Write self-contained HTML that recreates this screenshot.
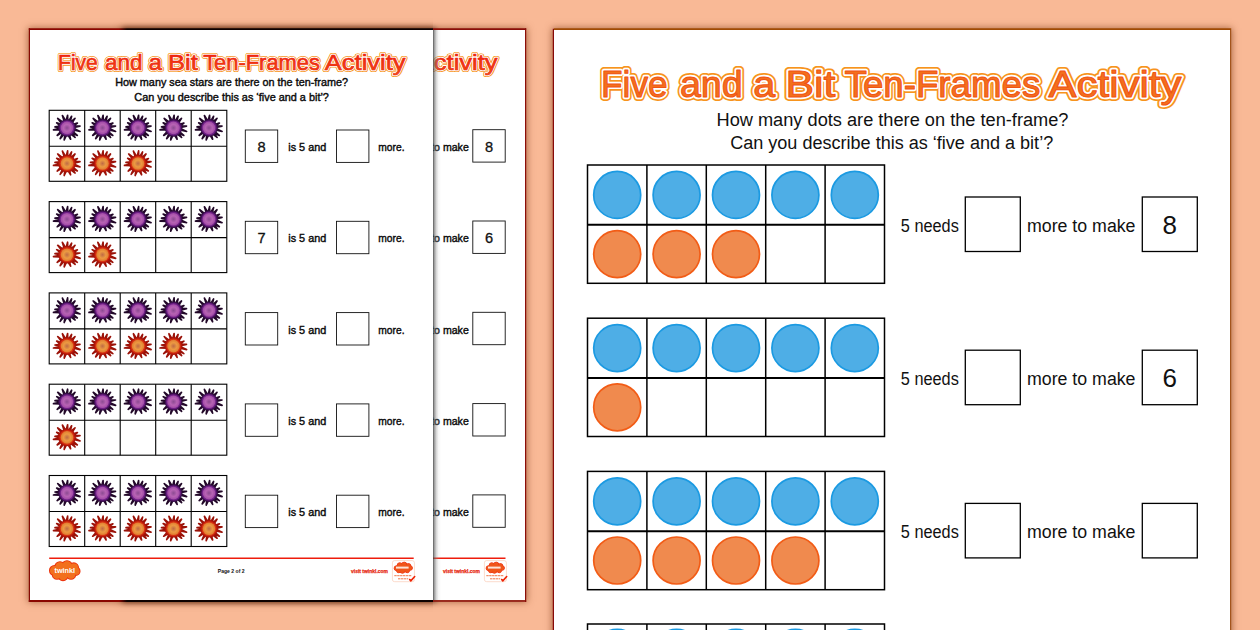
<!DOCTYPE html>
<html>
<head>
<meta charset="utf-8">
<title>Five and a Bit Ten-Frames Activity</title>
<style>
html,body{margin:0;padding:0;}
body{width:1260px;height:630px;overflow:hidden;background:#f9b996;position:relative;font-family:"Liberation Sans",sans-serif;}
.page{position:absolute;background:#fff;box-shadow:0 0 7px 2px rgba(125,55,20,.62);}
#ovl{position:absolute;left:126px;top:31px;width:307px;height:568px;box-shadow:0 0 5px 3px rgba(25,0,0,.6);}
#back{left:122px;top:30px;width:403px;height:570px;}
#front{left:30px;top:30px;width:403px;height:570px;clip-path:inset(-14px 0 -14px -14px);}
#right{left:554px;top:30px;width:676px;height:620px;}
#frontshade{position:absolute;left:433px;top:30px;width:9px;height:570px;background:linear-gradient(to right,rgba(60,60,60,.85) 0,rgba(100,100,100,.6) 1.5px,rgba(140,140,140,.33) 3.5px,rgba(180,180,180,.12) 5.5px,rgba(255,255,255,0) 8px);}
svg{position:absolute;left:0;top:0;width:1260px;height:630px;overflow:hidden;}
text{font-family:"Liberation Sans",sans-serif;}
</style>
</head>
<body>
<div id="ovl"></div>
<div class="page" id="back"></div>
<svg id="svgback" viewBox="0 0 1260 630">
<g transform="translate(92,0)"><use href="#twL" stroke="#f7941d" stroke-width="3.9" fill="#f7941d"/>
<use href="#twL" stroke="#fff" stroke-width="2.3" fill="#fff"/>
<use href="#twL" fill="url(#tgL)" stroke="#ee2410" stroke-width="0.65"/></g>
<g transform="translate(0,110.3)"><text x="404.1" y="40.7" font-size="11" fill="#0a0a0a" stroke="#0a0a0a" stroke-width="0.4" textLength="64.7" lengthAdjust="spacingAndGlyphs">more to make</text><use href="#boxL" x="472.5" y="19.2"/><text x="489" y="41.3" font-size="14.6" text-anchor="middle" fill="#111" stroke="#111" stroke-width="0.3">8</text></g>
<g transform="translate(0,201.6)"><text x="404.1" y="40.7" font-size="11" fill="#0a0a0a" stroke="#0a0a0a" stroke-width="0.4" textLength="64.7" lengthAdjust="spacingAndGlyphs">more to make</text><use href="#boxL" x="472.5" y="19.2"/><text x="489" y="41.3" font-size="14.6" text-anchor="middle" fill="#111" stroke="#111" stroke-width="0.3">6</text></g>
<g transform="translate(0,292.9)"><text x="404.1" y="40.7" font-size="11" fill="#0a0a0a" stroke="#0a0a0a" stroke-width="0.4" textLength="64.7" lengthAdjust="spacingAndGlyphs">more to make</text><use href="#boxL" x="472.5" y="19.2"/></g>
<g transform="translate(0,384.2)"><text x="404.1" y="40.7" font-size="11" fill="#0a0a0a" stroke="#0a0a0a" stroke-width="0.4" textLength="64.7" lengthAdjust="spacingAndGlyphs">more to make</text><use href="#boxL" x="472.5" y="19.2"/></g>
<g transform="translate(0,475.5)"><text x="404.1" y="40.7" font-size="11" fill="#0a0a0a" stroke="#0a0a0a" stroke-width="0.4" textLength="64.7" lengthAdjust="spacingAndGlyphs">more to make</text><use href="#boxL" x="472.5" y="19.2"/></g>

<path d="M141.2 558.2H505.5" stroke="#ee1c0c" stroke-width="1.4"/>
<use href="#visit" x="92"/>
</svg>
<div class="page" id="front"></div>
<div id="frontshade"></div>
<svg id="svgfront" viewBox="0 0 1260 630">
<defs>
<radialGradient id="pg"><stop offset="0" stop-color="#8c4a92"/><stop offset=".55" stop-color="#b863b4"/><stop offset="1" stop-color="#a04aa6"/></radialGradient>
<radialGradient id="og"><stop offset="0" stop-color="#bf6a45"/><stop offset=".55" stop-color="#ec9a42"/><stop offset="1" stop-color="#e07a30"/></radialGradient>
<g id="ps"><path d="M-0.9 -6.9 L0.6 -12.6 L0.7 -7.0 L1.7 -6.8 L4.6 -11.6 L3.2 -6.2 L3.8 -5.9 L8.0 -9.5 L5.0 -4.9 L6.1 -3.5 L10.4 -4.9 L6.7 -2.0 L6.7 -1.9 L13.0 -1.8 L7.0 -0.4 L7.0 0.6 L13.1 3.5 L6.7 2.1 L5.9 3.7 L10.3 7.5 L4.9 5.0 L4.8 5.1 L8.1 9.5 L3.5 6.0 L2.4 6.6 L3.6 11.3 L0.9 6.9 L-0.4 7.0 L-2.8 12.0 L-2.0 6.7 L-3.0 6.3 L-6.8 10.8 L-4.4 5.5 L-5.2 4.7 L-9.8 7.5 L-6.1 3.4 L-6.7 2.1 L-13.5 1.9 L-7.0 0.5 L-7.0 -0.1 L-12.0 -1.1 L-6.8 -1.7 L-6.7 -2.1 L-10.3 -5.1 L-6.0 -3.6 L-5.4 -4.5 L-9.3 -9.5 L-4.2 -5.6 L-2.7 -6.4 L-4.6 -12.4 L-1.2 -6.9Z" fill="#2e0c38" stroke="#220828" stroke-width="1.7" stroke-linejoin="round"/><circle r="8.8" fill="#3d0f50"/><circle r="7.5" fill="#6f1f86"/><circle r="6.3" fill="url(#pg)"/></g>
<g id="os"><path d="M-0.9 -6.9 L0.6 -12.6 L0.7 -7.0 L1.7 -6.8 L4.6 -11.6 L3.2 -6.2 L3.8 -5.9 L8.0 -9.5 L5.0 -4.9 L6.1 -3.5 L10.4 -4.9 L6.7 -2.0 L6.7 -1.9 L13.0 -1.8 L7.0 -0.4 L7.0 0.6 L13.1 3.5 L6.7 2.1 L5.9 3.7 L10.3 7.5 L4.9 5.0 L4.8 5.1 L8.1 9.5 L3.5 6.0 L2.4 6.6 L3.6 11.3 L0.9 6.9 L-0.4 7.0 L-2.8 12.0 L-2.0 6.7 L-3.0 6.3 L-6.8 10.8 L-4.4 5.5 L-5.2 4.7 L-9.8 7.5 L-6.1 3.4 L-6.7 2.1 L-13.5 1.9 L-7.0 0.5 L-7.0 -0.1 L-12.0 -1.1 L-6.8 -1.7 L-6.7 -2.1 L-10.3 -5.1 L-6.0 -3.6 L-5.4 -4.5 L-9.3 -9.5 L-4.2 -5.6 L-2.7 -6.4 L-4.6 -12.4 L-1.2 -6.9Z" fill="#b8180c" stroke="#9a1208" stroke-width="1.7" stroke-linejoin="round"/><circle r="8.8" fill="#b0160b"/><circle r="7.5" fill="#d83010"/><circle r="6.3" fill="url(#og)"/></g>
<g id="frameL" fill="none" stroke="#000" stroke-width="1.1">
<rect x="0" y="0" width="177.6" height="71"/>
<path d="M0 36H177.6M35.5 0V71M71 0V71M106.5 0V71M142 0V71"/>
</g>
<g id="prow"><use href="#ps" x="17.8" y="17.6"/><use href="#ps" x="53.3" y="17.6"/><use href="#ps" x="88.8" y="17.6"/><use href="#ps" x="124.3" y="17.6"/><use href="#ps" x="159.8" y="17.6"/></g>
<rect id="boxL" x="0.3" y="0.2" width="32.4" height="32.4" fill="#fff" stroke="#111" stroke-width="0.9"/>
<g id="rowtxtL" font-size="11" fill="#0a0a0a" stroke="#0a0a0a" stroke-width="0.4">
<use href="#boxL" x="245" y="19.5"/>
<text x="288.3" y="40.7" textLength="37.9" lengthAdjust="spacingAndGlyphs">is 5 and</text>
<use href="#boxL" x="336.2" y="19.5"/>
<text x="378.3" y="40.7" textLength="26.2" lengthAdjust="spacingAndGlyphs">more.</text>
</g>
</defs>
<defs><g id="twL" font-size="22.3" stroke-linejoin="round" stroke-linecap="round"><text x="58.1" y="70.2" textLength="39.7" lengthAdjust="spacingAndGlyphs">Five</text><text x="105.0" y="70.2" textLength="37.5" lengthAdjust="spacingAndGlyphs">and</text><text x="148.7" y="70.2" textLength="13.2" lengthAdjust="spacingAndGlyphs">a</text><text x="168.1" y="70.2" textLength="29.8" lengthAdjust="spacingAndGlyphs">Bit</text><text x="203.2" y="70.2" textLength="116.7" lengthAdjust="spacingAndGlyphs">Ten-Frames</text><text x="324.8" y="70.2" textLength="80.8" lengthAdjust="spacingAndGlyphs">Activity</text></g></defs>
<use href="#twL" stroke="#f7941d" stroke-width="3.9" fill="#f7941d"/>
<use href="#twL" stroke="#fff" stroke-width="2.3" fill="#fff"/>
<use href="#twL" fill="url(#tgL)" stroke="#ee2410" stroke-width="0.65"/>
<g font-size="10.8" fill="#0a0a0a" stroke="#0a0a0a" stroke-width="0.4" text-anchor="middle">
<text x="231.6" y="86" textLength="232.8" lengthAdjust="spacingAndGlyphs">How many sea stars are there on the ten-frame?</text>
<text x="231.6" y="101" textLength="194.6" lengthAdjust="spacingAndGlyphs">Can you describe this as ‘five and a bit’?</text>
</g>
<g transform="translate(49.2,110.3)"><use href="#frameL"/><use href="#prow"/><use href="#os" x="17.8" y="53.2"/><use href="#os" x="53.3" y="53.2"/><use href="#os" x="88.8" y="53.2"/></g>
<g transform="translate(0,110.3)"><use href="#rowtxtL"/><text x="261.5" y="41.5" font-size="14.6" text-anchor="middle" fill="#111" stroke="#111" stroke-width="0.3">8</text></g>
<g transform="translate(49.2,201.6)"><use href="#frameL"/><use href="#prow"/><use href="#os" x="17.8" y="53.2"/><use href="#os" x="53.3" y="53.2"/></g>
<g transform="translate(0,201.6)"><use href="#rowtxtL"/><text x="261.5" y="41.5" font-size="14.6" text-anchor="middle" fill="#111" stroke="#111" stroke-width="0.3">7</text></g>
<g transform="translate(49.2,292.9)"><use href="#frameL"/><use href="#prow"/><use href="#os" x="17.8" y="53.2"/><use href="#os" x="53.3" y="53.2"/><use href="#os" x="88.8" y="53.2"/><use href="#os" x="124.3" y="53.2"/></g>
<g transform="translate(0,292.9)"><use href="#rowtxtL"/></g>
<g transform="translate(49.2,384.2)"><use href="#frameL"/><use href="#prow"/><use href="#os" x="17.8" y="53.2"/></g>
<g transform="translate(0,384.2)"><use href="#rowtxtL"/></g>
<g transform="translate(49.2,475.5)"><use href="#frameL"/><use href="#prow"/><use href="#os" x="17.8" y="53.2"/><use href="#os" x="53.3" y="53.2"/><use href="#os" x="88.8" y="53.2"/><use href="#os" x="124.3" y="53.2"/><use href="#os" x="159.8" y="53.2"/></g>
<g transform="translate(0,475.5)"><use href="#rowtxtL"/></g>

<!-- footer -->
<path d="M49.2 558.2H413.7" stroke="#ee1c0c" stroke-width="1.4"/>
<g id="cloud"><g fill="#f2701e" stroke="#ec3510" stroke-width="1.3"><circle cx="54.6" cy="570.6" r="5"/><circle cx="60" cy="566.8" r="5"/><circle cx="67" cy="565.8" r="5"/><circle cx="73.8" cy="567.6" r="4.6"/><circle cx="75.8" cy="571.2" r="4.1"/><circle cx="71" cy="574.6" r="4.6"/><circle cx="63" cy="575.6" r="5"/><circle cx="57" cy="574.6" r="4.6"/></g><ellipse cx="65" cy="571" rx="10.5" ry="6.5" fill="#f2701e"/><circle cx="54.6" cy="570.6" r="4.5" fill="#f2701e"/><circle cx="60" cy="566.8" r="4.5" fill="#f2701e"/><circle cx="67" cy="565.8" r="4.5" fill="#f2701e"/><circle cx="73.8" cy="567.6" r="4.1" fill="#f2701e"/><circle cx="75.8" cy="571.2" r="3.5999999999999996" fill="#f2701e"/><circle cx="71" cy="574.6" r="4.1" fill="#f2701e"/><circle cx="63" cy="575.6" r="4.5" fill="#f2701e"/><circle cx="57" cy="574.6" r="4.1" fill="#f2701e"/><text x="64.8" y="573.4" font-size="7" font-weight="bold" fill="#fff" text-anchor="middle" textLength="20.5" lengthAdjust="spacingAndGlyphs">twinkl</text></g>
<text x="231.2" y="573.4" font-size="5.6" font-weight="bold" fill="#111" text-anchor="middle" textLength="26.8" lengthAdjust="spacingAndGlyphs">Page 2 of 2</text>
<g id="visit"><text x="351" y="573.2" font-size="5.6" font-weight="bold" fill="#e61e0a" stroke="#e61e0a" stroke-width="0.25" textLength="37" lengthAdjust="spacingAndGlyphs">visit twinkl.com</text>
<rect x="392.4" y="560.6" width="22" height="21.1" rx="2.2" fill="#fff" stroke="#f9b89a" stroke-width="0.5"/>
<g fill="#f0561a" stroke="#ee2c0c" stroke-width="0.9"><circle cx="396.6" cy="568.2" r="2.45"/><circle cx="399.8" cy="565.4" r="2.65"/><circle cx="404.2" cy="564.9" r="2.75"/><circle cx="408.4" cy="566" r="2.45"/><circle cx="410.2" cy="568" r="2.25"/><circle cx="407.2" cy="570.3" r="2.45"/><circle cx="402.4" cy="570.6" r="2.65"/><circle cx="398.8" cy="570.4" r="2.35"/></g><g fill="#f0561a"><circle cx="396.6" cy="568.2" r="2.10"/><circle cx="399.8" cy="565.4" r="2.30"/><circle cx="404.2" cy="564.9" r="2.40"/><circle cx="408.4" cy="566" r="2.10"/><circle cx="410.2" cy="568" r="1.90"/><circle cx="407.2" cy="570.3" r="2.10"/><circle cx="402.4" cy="570.6" r="2.30"/><circle cx="398.8" cy="570.4" r="2.00"/><ellipse cx="403.4" cy="567.9" rx="6.2" ry="3.3"/></g>
<path d="M396 567.6h12.600" stroke="#fde3d6" stroke-width="2"/>
<path d="M394.300 575.700h17.500M398 578.800h10.200" stroke="#f0561a" stroke-width="1" stroke-dasharray="2.400 0.500" opacity=".8"/>
<path d="M409.700 579.500l1.100 1.400l3.900-4.400" stroke="#ee2406" stroke-width="1.6" fill="none" stroke-linecap="round" stroke-linejoin="round"/>
</g>
</svg>
<div class="page" id="right"></div>
<svg id="svgright" viewBox="0 0 1260 630">
<defs>
<g id="frameR" fill="none" stroke="#000" stroke-width="1.5">
<rect x="0" y="0" width="297" height="118.3"/>
<path d="M59.4 0V118.3M118.8 0V118.3M178.2 0V118.3M237.6 0V118.3"/><path d="M0 59.8H297" stroke-width="1.9"/>
</g>
<circle id="bl" r="23.5" fill="#4eaee6" stroke="#1b9ae2" stroke-width="1.7"/>
<circle id="or" r="23.5" fill="#f08a4e" stroke="#f25c16" stroke-width="1.7"/>
<g id="blrow"><use href="#bl" x="29.7" y="29.9"/><use href="#bl" x="89.1" y="29.9"/><use href="#bl" x="148.5" y="29.9"/><use href="#bl" x="207.9" y="29.9"/><use href="#bl" x="267.3" y="29.9"/></g>
<rect id="boxR" width="55" height="54.5" fill="#fff" stroke="#000" stroke-width="1.3"/>
<g id="rowtxtR" font-size="18" fill="#111">
<text x="900.8" y="66.5" textLength="58" lengthAdjust="spacingAndGlyphs">5 needs</text>
<use href="#boxR" x="965.3" y="32"/>
<text x="1027" y="66.5" textLength="108.5" lengthAdjust="spacingAndGlyphs">more to make</text>
<use href="#boxR" x="1142.3" y="32"/>
</g>
</defs>
<!-- title -->
<defs><g id="twR" font-size="37.3" stroke-linejoin="round" stroke-linecap="round"><text x="601.1" y="97" textLength="66.5" lengthAdjust="spacingAndGlyphs">Five</text><text x="679.9" y="97" textLength="62.8" lengthAdjust="spacingAndGlyphs">and</text><text x="753.2" y="97" textLength="22.0" lengthAdjust="spacingAndGlyphs">a</text><text x="785.6" y="97" textLength="49.9" lengthAdjust="spacingAndGlyphs">Bit</text><text x="844.6" y="97" textLength="195.7" lengthAdjust="spacingAndGlyphs">Ten-Frames</text><text x="1048.5" y="97" textLength="133" lengthAdjust="spacingAndGlyphs">Activity</text></g>
<linearGradient id="tgL" x1="0" y1="0" x2="0" y2="1"><stop offset="0" stop-color="#ee1a0c"/><stop offset="1" stop-color="#f0560f"/></linearGradient>
</defs>
<use href="#twR" stroke="#f7941d" stroke-width="7.8" fill="#f7941d"/>
<use href="#twR" stroke="#fff" stroke-width="4.4" fill="#fff"/>
<use href="#twR" fill="#f3701c" stroke="#f05214" stroke-width="1"/>
<g font-size="18" fill="#111" text-anchor="middle">
<text x="892.5" y="125.6" textLength="352" lengthAdjust="spacingAndGlyphs">How many dots are there on the ten-frame?</text>
<text x="891.7" y="149.4" textLength="323" lengthAdjust="spacingAndGlyphs">Can you describe this as ‘five and a bit’?</text>
</g>
<!-- grid 1 -->
<g transform="translate(587.5,165)"><use href="#frameR"/><use href="#blrow"/>
<use href="#or" x="29.7" y="89.1"/><use href="#or" x="89.1" y="89.1"/><use href="#or" x="148.5" y="89.1"/></g>
<g transform="translate(0,165)"><use href="#rowtxtR"/><text x="1169.8" y="68.5" font-size="26" text-anchor="middle" fill="#111">8</text></g>
<!-- grid 2 -->
<g transform="translate(587.5,318.2)"><use href="#frameR"/><use href="#blrow"/>
<use href="#or" x="29.7" y="89.1"/></g>
<g transform="translate(0,318.2)"><use href="#rowtxtR"/><text x="1169.8" y="68.5" font-size="26" text-anchor="middle" fill="#111">6</text></g>
<!-- grid 3 -->
<g transform="translate(587.5,471.4)"><use href="#frameR"/><use href="#blrow"/>
<use href="#or" x="29.7" y="89.1"/><use href="#or" x="89.1" y="89.1"/><use href="#or" x="148.5" y="89.1"/><use href="#or" x="207.9" y="89.1"/></g>
<g transform="translate(0,471.4)"><use href="#rowtxtR"/></g>
<!-- grid 4 -->
<g transform="translate(587.5,624)"><use href="#frameR"/><use href="#blrow" y="-1"/></g>
<!-- page edge lines -->
<defs>
<linearGradient id="rb" gradientUnits="userSpaceOnUse" x1="119" y1="0" x2="127" y2="0"><stop offset="0" stop-color="#8a0600"/><stop offset="1" stop-color="#0c0000"/></linearGradient>
</defs>
<g fill="none">
<path d="M28.8 29.15H433" stroke="url(#rb)" stroke-width="1.7"/>
<path d="M28.8 601H433" stroke="url(#rb)" stroke-width="2"/>
<path d="M29.4 28.3V602" stroke="#860a04" stroke-width="1.2"/>
<path d="M433 29.15H526.2M433 601H526.2" stroke="#8a0e08" stroke-width="1.7"/>
<path d="M525.6 28.3V602" stroke="#8a0e08" stroke-width="1.2"/>
<path d="M553.4 28.8V630" stroke="#860808" stroke-width="1.2"/>
<path d="M554 29.15H1231.200" stroke="#a04a04" stroke-width="1.7"/>
<path d="M1230.600 30V630" stroke="#a3541c" stroke-width="1.2"/>
</g>
</svg>
</body>
</html>
